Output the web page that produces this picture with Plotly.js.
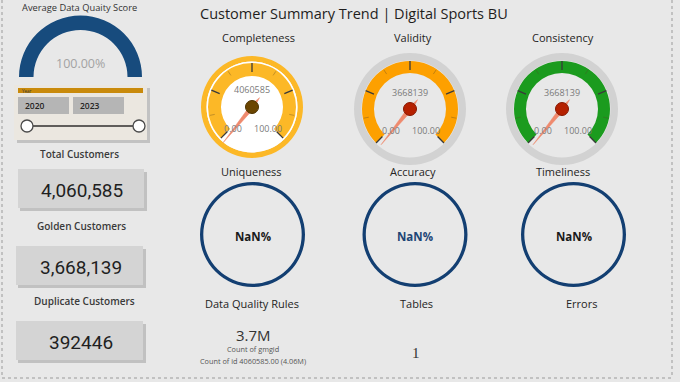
<!DOCTYPE html>
<html><head><meta charset="utf-8">
<script src="https://cdn.plot.ly/plotly-3.0.1.min.js"></script>
<style>html,body{margin:0;padding:0;background:#e8e8e8;}#chart{width:680px;height:382px;}</style>
</head><body><div id="chart"></div>
<script>
// ---------------- data ----------------
const pageTitle = 'Customer Summary Trend | Digital Sports BU';
const avgScoreLabel = 'Average Data Quaity Score';
const avgScore = 100.00;
const sliderLabel = 'Year';
const yearRange = [2020, 2023];
const kpiLabels = ['Total Customers', 'Golden Customers', 'Duplicate Customers'];
const kpiValues = [4060585, 3668139, 392446];
const kpiCommas = [true, true, false];
const gaugeNames = ['Completeness', 'Validity', 'Consistency'];
const gaugeValues = [4060585, 3668139, 3668139];
const gaugeMin = [0, 0, 0];
const gaugeMax = [100, 100, 100];
const ringNames = ['Uniqueness', 'Accuracy', 'Timeliness'];
const ringValues = ['NaN%', 'NaN%', 'NaN%'];
const bottomNames = ['Data Quality Rules', 'Tables', 'Errors'];
const rulesValue = '3.7M';
const rulesSub = ['Count of gmgid', 'Count of id 4060585.00 (4.06M)'];
const tablesValue = '1';

// ---------------- helpers ----------------
const W = 680, H = 382;
const FONT = '"Segoe UI", "Open Sans", sans-serif';
const data = [];
const layout = {
  width: W, height: H, margin: {l: 0, r: 0, t: 0, b: 0},
  paper_bgcolor: '#e8e8e8', plot_bgcolor: 'rgba(0,0,0,0)',
  showlegend: false, shapes: [], annotations: [], dragmode: false
};
let pIdx = 0;
function addPolar(cx, cy, R) {
  pIdx++;
  const id = pIdx === 1 ? 'polar' : 'polar' + pIdx;
  const Rd = R + 1;
  layout[id] = {
    domain: {x: [(cx - Rd) / W, (cx + Rd) / W], y: [1 - (cy + Rd) / H, 1 - (cy - Rd) / H]},
    bgcolor: 'rgba(0,0,0,0)', barmode: 'overlay', hole: 0,
    radialaxis: {visible: false, range: [0, Rd], showgrid: false, showline: false, ticks: ''},
    angularaxis: {visible: false, direction: 'clockwise', rotation: 90, showgrid: false, showline: false, ticks: ''}
  };
  return id;
}
function arc(sub, r0, r1, a0, a1, color) {
  data.push({type: 'barpolar', subplot: sub, r: [r1 - r0], base: [r0], theta: [(a0 + a1) / 2],
    width: [a1 - a0], marker: {color: color, line: {width: 0}}, hoverinfo: 'skip'});
}
function ticks(sub, angles, r0, r1, color, w) {
  const r = [], th = [];
  angles.forEach(a => { r.push(r0, r1, null); th.push(a, a, null); });
  data.push({type: 'scatterpolar', subplot: sub, mode: 'lines', r: r, theta: th,
    line: {color: color, width: w}, hoverinfo: 'skip'});
}
function needle(sub, ang, len, tail, hw, color) {
  data.push({type: 'scatterpolar', subplot: sub, mode: 'lines', fill: 'toself', fillcolor: color,
    r: [len, hw, tail, hw, len], theta: [ang, ang + 90, ang + 180, ang - 90, ang],
    line: {color: color, width: 0.5}, hoverinfo: 'skip'});
}
function pivot(sub, size, color, lineColor) {
  data.push({type: 'scatterpolar', subplot: sub, mode: 'markers', r: [0], theta: [0],
    marker: {size: size, color: color, line: {color: lineColor, width: 1}}, hoverinfo: 'skip'});
}
function txt(x, y, text, size, color, opts) {
  layout.annotations.push(Object.assign({xref: 'paper', yref: 'paper', x: x / W, y: 1 - y / H,
    text: text, showarrow: false, xanchor: 'center', yanchor: 'middle',
    font: {size: size, color: color, family: FONT}}, opts || {}));
}
function rect(x0, y0, x1, y1, fill, lineColor) {
  layout.shapes.push({type: 'rect', xref: 'paper', yref: 'paper', layer: 'below',
    x0: x0 / W, x1: x1 / W, y0: 1 - y1 / H, y1: 1 - y0 / H, fillcolor: fill,
    line: {width: lineColor ? 1 : 0, color: lineColor || 'rgba(0,0,0,0)'}});
}
function line(x0, y0, x1, y1, color, dash) {
  layout.shapes.push({type: 'line', xref: 'paper', yref: 'paper', layer: 'below',
    x0: x0 / W, x1: x1 / W, y0: 1 - y0 / H, y1: 1 - y1 / H, line: {color: color, width: 1, dash: dash}});
}

// ---------------- page frame ----------------
line(2, 0, 2, 378, '#9a9a9a', 'dot');
line(672, 0, 672, 378, '#9a9a9a', 'dot');
line(2, 378, 672, 378, '#9a9a9a', 'dot');
txt(353.5, 14, pageTitle, 14.5, '#1f1e1d', {font: {size: 14.5, color: '#1f1e1d', family: FONT, weight: 500}});

// ---------------- average score semicircle ----------------
txt(79.5, 7, avgScoreLabel, 9.3, '#333333');
{
  const cx = 80.5, cy = 77, R = 61.5;
  const sub = addPolar(cx, cy, R);
  const sweep = 180 * avgScore / 100;
  arc(sub, 47, R, -90 + sweep, 90, '#c8c8c8');
  arc(sub, 47, R, -90, -90 + sweep, '#174b7d');
  txt(cx, 64, avgScore.toFixed(2) + '%', 12.5, '#a3a3a3');
}

// ---------------- year slicer ----------------
rect(17, 88, 150, 143, 'rgba(0,0,0,0.16)');
rect(14, 85, 147, 140, '#ebe7e0');
rect(18, 88, 143, 93, '#c98a0b');
txt(20, 90.5, sliderLabel, 4.5, '#3a3a3a', {xanchor: 'left'});
rect(18, 97, 69, 114, '#b5b5b5');
rect(73, 97, 124, 114, '#b5b5b5');
txt(23, 105.5, String(yearRange[0]), 8.5, '#252423', {xanchor: 'left', font: {size: 8.5, color: '#252423', family: FONT, weight: 600}});
txt(78, 105.5, String(yearRange[1]), 8.5, '#252423', {xanchor: 'left', font: {size: 8.5, color: '#252423', family: FONT, weight: 600}});
layout.xaxis = {domain: [27 / W, 139 / W], range: [yearRange[0], yearRange[1]], visible: false, fixedrange: true};
layout.yaxis = {domain: [1 - 131 / H, 1 - 121 / H], range: [0, 1], visible: false, fixedrange: true};
data.push({type: 'scatter', x: yearRange, y: [0.5, 0.5], mode: 'lines+markers', cliponaxis: false,
  line: {color: '#5f5d5b', width: 2}, marker: {size: 12, color: '#ffffff', line: {color: '#4a4a4a', width: 1.3}},
  hoverinfo: 'skip'});

// ---------------- KPI cards ----------------
const cardTops = [169, 246, 321];
const labelYs = [154, 226, 301];
const labelXs = [79, 81, 84.5];
kpiLabels.forEach((lab, i) => {
  txt(labelXs[i], labelYs[i], lab, 10, '#3a3a3a', {font: {size: 10, color: '#3a3a3a', family: FONT, weight: 600}});
  const x0 = i === 0 ? 18 : 16, x1 = i === 0 ? 144 : 143, y0 = cardTops[i], y1 = cardTops[i] + 39;
  rect(x0 + 2, y0 + 3, x1 + 3, y1 + 3, 'rgba(0,0,0,0.17)');
  rect(x0, y0, x1, y1, '#d4d4d4');
  const v = kpiCommas[i] ? kpiValues[i].toLocaleString('en-US') : String(kpiValues[i]);
  txt((x0 + x1) / 2 + 1, (y0 + y1) / 2 + 2, v, 19, '#1f1f1f', {font: {size: 19, color: '#1f1f1f', family: 'Roboto, sans-serif'}});
});

// ---------------- dial gauges ----------------
const gaugeCenters = [[252, 107], [410, 109], [562, 109]];
const gaugeTitleX = [258.5, 413, 562.5];
const gaugeStyles = [
  {R: 51, ring: [45.5, 51], ringColor: '#fcb827', face: '#ffffff', arc: [31, 44], arcColor: '#fcb827',
   tick: [35, 44], pivot: '#6b4500', pivotLine: '#4d3200'},
  {R: 56, ring: [48.5, 56], ringColor: '#d2d2d2', face: null, arc: [36, 48], arcColor: '#fda000',
   tick: [39, 48], pivot: '#b52000', pivotLine: '#861700'},
  {R: 56, ring: [48.5, 56], ringColor: '#d2d2d2', face: null, arc: [36, 48], arcColor: '#1b9b1e',
   tick: [39, 48], pivot: '#b52000', pivotLine: '#861700'}
];
const startA = -135, endA = 135;
gaugeNames.forEach((name, i) => {
  const [cx, cy] = gaugeCenters[i];
  const s = gaugeStyles[i];
  txt(gaugeTitleX[i], 38, name, 11, '#252423');
  const sub = addPolar(cx, cy, s.R);
  arc(sub, s.ring[0], s.ring[1], -180, 180, s.ringColor);
  if (s.face) arc(sub, 0, s.ring[0], -180, 180, s.face);
  arc(sub, s.arc[0], s.arc[1], startA, endA, s.arcColor);
  const major = [], minor = [];
  for (let k = 0; k <= 4; k++) major.push(startA + k * (endA - startA) / 4);
  for (let k = 0; k < 4; k++) minor.push(startA + (k + 0.5) * (endA - startA) / 4);
  ticks(sub, minor, s.tick[0] + 3, s.tick[1] - 1, 'rgba(90,70,40,0.35)', 1);
  ticks(sub, major, s.tick[0], s.tick[1], '#3a3a3a', 1.3);
  // labels
  txt(cx, cy - 17, String(gaugeValues[i]), 9, '#7a7a7a');
  txt(cx - 8, cy + 21, gaugeMin[i].toFixed(2), 9, '#7a7a7a', {xanchor: 'right'});
  txt(cx, cy + 21, gaugeMax[i].toFixed(2), 9, '#7a7a7a', {xanchor: 'left'});
  // needle rests just below the minimum
  const v = gaugeValues[i];
  const frac = Math.max(0, Math.min(1, (v - gaugeMin[i]) / (gaugeMax[i] - gaugeMin[i])));
  const ang = frac >= 1 ? startA - 6 : startA + frac * (endA - startA) - 6;
  needle(sub, ang, 46, 12, 2.3, '#ef8a6e');
  pivot(sub, 13, s.pivot, s.pivotLine);
});

// ---------------- NaN rings ----------------
const ringCenters = [[252.5, 234.5], [415, 234.5], [573.5, 234.5]];
const ringTitlePos = [[251, 172], [413.5, 171], [562.5, 172]];
const ringTextColors = ['#1a1a1a', '#1d4575', '#1a1a1a'];
ringNames.forEach((name, i) => {
  const [cx, cy] = ringCenters[i];
  txt(ringTitlePos[i][0], ringTitlePos[i][1], name, 11, '#252423');
  const sub = addPolar(cx, cy, 52.5);
  arc(sub, 49.2, 52.5, -180, 180, '#133f72');
  txt(cx, cy + 2, '<b>' + ringValues[i] + '</b>', 11.5, ringTextColors[i]);
});

// ---------------- bottom row ----------------
const bottomX = [252, 416, 581];
bottomNames.forEach((n, i) => txt(bottomX[i], 303, n, 11, '#252423'));
txt(253, 335, rulesValue, 15, '#333333');
txt(253, 349, rulesSub[0], 7.3, '#555555');
txt(253, 361, rulesSub[1], 7.3, '#555555');
txt(415.5, 353, tablesValue, 15, '#333333', {font: {size: 15, color: '#333333', family: '"Liberation Serif", serif'}});

Plotly.newPlot('chart', data, layout, {staticPlot: true, displayModeBar: false});
</script>
</body></html>
